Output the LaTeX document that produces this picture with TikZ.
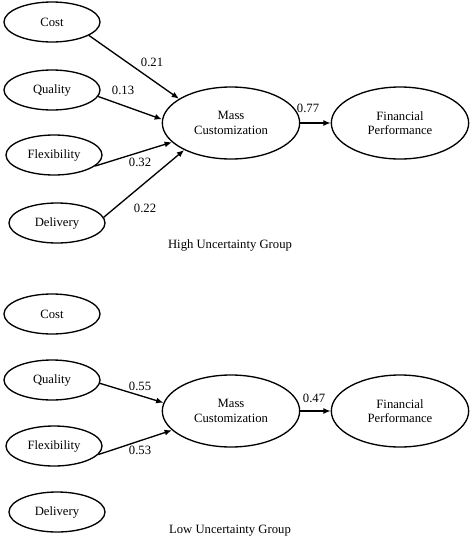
\documentclass[tikz,border=0pt]{standalone}
\usepackage{fontspec}
\setmainfont{Liberation Serif}
\usepackage{tikz}
\usetikzlibrary{shapes.geometric}
\usetikzlibrary{arrows.meta}
\tikzset{var/.style={draw,ellipse,line width=1pt,inner sep=0pt,
                     minimum width=72pt,minimum height=30pt,align=center},
         bigvar/.style={var,minimum width=103pt,minimum height=54pt},
         path/.style={-{Latex[length=5.5pt,width=4.5pt]},line width=1pt},
         coef/.style={inner sep=0pt}}

\begin{document}
\begin{tikzpicture}[x=0.75pt,y=-0.75pt,font=\fontsize{9.5}{11}\selectfont]
\useasboundingbox (0,0) rectangle (474,543);
% high uncertainty
\draw (52,22) node[var] (hcost) {Cost};
\draw (52,90) node[var] (hqual) {Quality};
\draw (54,155) node[var] (hflex) {Flexibility};
\draw (57,223) node[var] (hdel) {Delivery};
\draw (231,123) node[bigvar] (hmc) {Mass\\Customization};
\draw (400,123) node[bigvar] (hfp) {Financial\\Performance};
\draw[path] (hcost.-20)--(hmc.155);
\draw[path] (hqual.-8)--(hmc.177);
\draw[path] (hflex.-15)--(hmc.198);
\draw[path] (hdel.7)--(hmc.210);
\draw[path] (hmc.east)--(hfp.west);
\draw (152,62) node[coef]{0.21};
\draw (123,90) node[coef]{0.13};
\draw (140,162) node[coef]{0.32};
\draw (145,208) node[coef]{0.22};
\draw (308,108) node[coef]{0.77};
\draw (230,245) node (hlab) {High Uncertainty Group};
% low uncertainty
\draw (52,314) node[var] (lcost) {Cost};
\draw (52,380) node[var] (lqual) {Quality};
\draw (54,446) node[var] (lflex) {Flexibility};
\draw (57,512) node[var] (ldel) {Delivery};
\draw (231,411) node[bigvar] (lmc) {Mass\\Customization};
\draw (400,411) node[bigvar] (lfp) {Financial\\Performance};
\draw[path] (lqual.-4)--(lmc.173);
\draw[path] (lflex.-11)--(lmc.198);
\draw[path] (lmc.east)--(lfp.west);
\draw (140,386) node[coef]{0.55};
\draw (140,450) node[coef]{0.53};
\draw (314,398) node[coef]{0.47};
\draw (230,531) node (llab) {Low Uncertainty Group};
\end{tikzpicture}
\end{document}
